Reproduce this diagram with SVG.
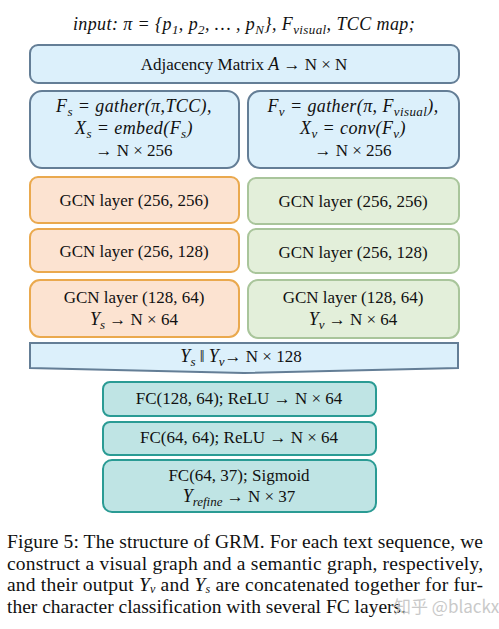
<svg xmlns="http://www.w3.org/2000/svg" width="499" height="629" viewBox="0 0 499 629">
<style>
.t{font-family:"Liberation Serif","Times New Roman",serif;font-size:17px;fill:#111;text-anchor:middle}
.m{font-style:italic;font-size:18px}
.up{font-style:normal}
.s{font-size:13px}
.cap{font-family:"Liberation Serif","Times New Roman",serif;font-size:19.5px;fill:#111}
.blue{fill:#dcf0fb;stroke:#647e96;stroke-width:2}
.orange{fill:#fce3d1;stroke:#eaa94e;stroke-width:2}
.green{fill:#e3efda;stroke:#a9c59b;stroke-width:2}
.teal{fill:#bfe4e4;stroke:#2a9b94;stroke-width:2}
</style>
<rect width="499" height="629" fill="#ffffff"/>
<text class="t m" x="244" y="30" font-size="19" letter-spacing="0.4">input: π = {p<tspan class="s" dy="4">1</tspan><tspan dy="-4">, p</tspan><tspan class="s" dy="4">2</tspan><tspan dy="-4">, … , p</tspan><tspan class="s" dy="4">N</tspan><tspan dy="-4">},  F</tspan><tspan class="s" dy="4">visual</tspan><tspan dy="-4">,  TCC map;</tspan></text>

<g id="adjacency">
<rect class="blue" x="30" y="45" width="429" height="38" rx="8"/>
<text class="t" x="244" y="70">Adjacency Matrix <tspan class="m">A</tspan>  → N × N</text>
</g>

<g id="semantic-input">
<rect class="blue" x="30" y="91" width="209" height="77" rx="12"/>
<text class="t m" x="134" y="112" letter-spacing="0.4">F<tspan class="s" dy="4">s</tspan><tspan dy="-4"> = gather(π,TCC),</tspan></text>
<text class="t m" x="134" y="134" letter-spacing="0.4">X<tspan class="s" dy="4">s</tspan><tspan dy="-4"> = embed(F</tspan><tspan class="s" dy="4">s</tspan><tspan dy="-4">)</tspan></text>
<text class="t" x="134" y="156">→ N × 256</text>
</g>

<g id="visual-input">
<rect class="blue" x="248" y="91" width="211" height="77" rx="12"/>
<text class="t m" x="353" y="112" letter-spacing="0.4">F<tspan class="s" dy="4">v</tspan><tspan dy="-4"> = gather(π, F</tspan><tspan class="s" dy="4">visual</tspan><tspan dy="-4">),</tspan></text>
<text class="t m" x="353" y="134" letter-spacing="0.4">X<tspan class="s" dy="4">v</tspan><tspan dy="-4"> = conv(F</tspan><tspan class="s" dy="4">v</tspan><tspan dy="-4">)</tspan></text>
<text class="t" x="353" y="156">→ N × 256</text>
</g>

<g id="gcn-s1">
<rect class="orange" x="30" y="177" width="209" height="46" rx="8"/>
<text class="t" x="134" y="206">GCN layer (256, 256)</text>
</g>
<g id="gcn-v1">
<rect class="green" x="248" y="178" width="211" height="46" rx="8"/>
<text class="t" x="353" y="207">GCN layer (256, 256)</text>
</g>
<g id="gcn-s2">
<rect class="orange" x="30" y="229" width="209" height="43" rx="8"/>
<text class="t" x="134" y="257">GCN layer (256, 128)</text>
</g>
<g id="gcn-v2">
<rect class="green" x="248" y="229" width="211" height="44" rx="8"/>
<text class="t" x="353" y="258">GCN layer (256, 128)</text>
</g>
<g id="gcn-s3">
<rect class="orange" x="30" y="280" width="209" height="57" rx="10"/>
<text class="t" x="134" y="303">GCN layer (128, 64)</text>
<text class="t" x="134" y="325"><tspan class="m">Y</tspan><tspan class="m s" dy="4">s</tspan><tspan dy="-4"> →  N × 64</tspan></text>
</g>
<g id="gcn-v3">
<rect class="green" x="248" y="280" width="211" height="58" rx="10"/>
<text class="t" x="353" y="303">GCN layer (128, 64)</text>
<text class="t" x="353" y="325"><tspan class="m">Y</tspan><tspan class="m s" dy="4">v</tspan><tspan dy="-4"> →  N × 64</tspan></text>
</g>

<g id="concat">
<path class="blue" d="M30 343 H458 V368 L244 373 L30 368 Z"/>
<text class="t" x="241" y="362"><tspan class="m">Y</tspan><tspan class="m s" dy="4">s</tspan><tspan dy="-4"> ǁ </tspan><tspan class="m">Y</tspan><tspan class="m s" dy="4">v</tspan><tspan dy="-4">→  N × 128</tspan></text>
</g>

<g id="fc1">
<rect class="teal" x="103" y="382" width="273" height="34" rx="7"/>
<text class="t" x="239" y="404">FC(128, 64); ReLU →  N × 64</text>
</g>
<g id="fc2">
<rect class="teal" x="103" y="422" width="273" height="33" rx="7"/>
<text class="t" x="239" y="443">FC(64, 64); ReLU →  N × 64</text>
</g>
<g id="fc3">
<rect class="teal" x="103" y="460" width="273" height="52" rx="9"/>
<text class="t" x="239" y="481">FC(64, 37); Sigmoid</text>
<text class="t" x="239" y="502"><tspan class="m">Y</tspan><tspan class="m s" dy="4">refine</tspan><tspan dy="-4"> → N × 37</tspan></text>
</g>

<g id="caption">
<text class="cap" x="7" y="548" textLength="476" lengthAdjust="spacing">Figure 5: The structure of GRM. For each text sequence, we</text>
<text class="cap" x="7" y="570" textLength="476" lengthAdjust="spacing">construct a visual graph and a semantic graph, respectively,</text>
<text class="cap" x="7" y="591" textLength="476" lengthAdjust="spacing">and their output <tspan font-style="italic">Y</tspan><tspan font-style="italic" font-size="12" dy="2">v</tspan><tspan dy="-2"> and </tspan><tspan font-style="italic">Y</tspan><tspan font-style="italic" font-size="12" dy="2">s</tspan><tspan dy="-2"> are concatenated together for fur-</tspan></text>
<text class="cap" x="7" y="613">ther character classification with several FC layers.</text>
<text x="394" y="613" font-family="'Noto Sans CJK SC','Liberation Sans',sans-serif" font-size="17" fill="#c4c4c4" opacity="0.9">知乎 @blackx</text>
</g>
</svg>
